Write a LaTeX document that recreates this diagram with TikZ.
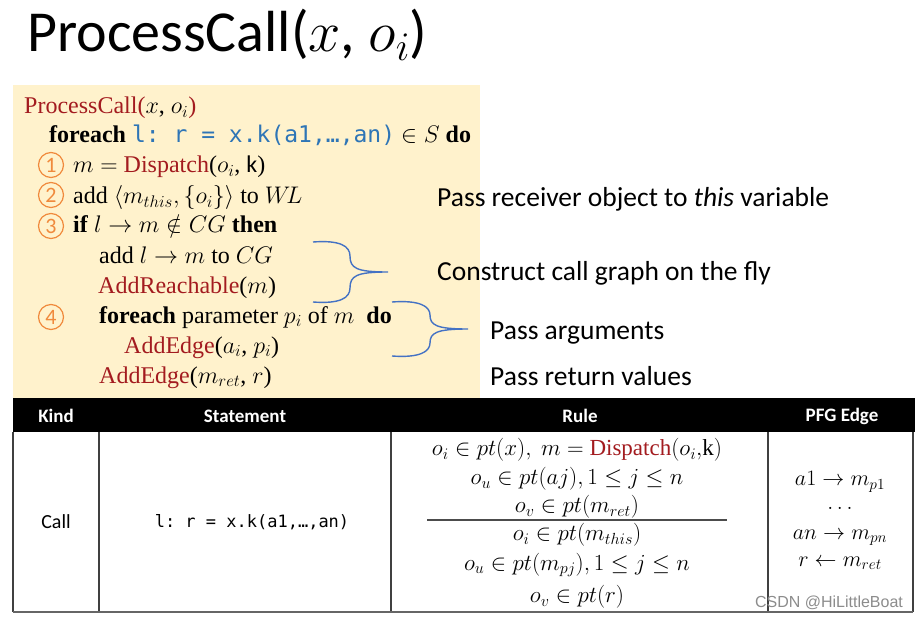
\documentclass[tikz,border=0pt]{standalone}
\usepackage{fix-cm}
\usepackage{fontspec}
\setmainfont{Liberation Serif}
\setsansfont{Carlito}
\setmonofont{DejaVu Sans Mono}
\newfontfamily\markfont{Liberation Sans}
\usetikzlibrary{positioning}
\definecolor{boxyellow}{HTML}{FFF2CC}
\definecolor{fnred}{HTML}{A31B1F}
\definecolor{codeblue}{HTML}{2E75B6}
\definecolor{stepor}{HTML}{F08A3C}
\definecolor{bracebl}{HTML}{4472C4}
\newcommand{\fn}[1]{\textcolor{fnred}{#1}}
\newcommand{\code}[1]{\textcolor{codeblue}{\ttfamily\fontsize{23}{28}\selectfont #1}}
\tikzset{
  algo/.style={anchor=base west, inner sep=0pt, font=\fontsize{24}{28}\selectfont},
  note/.style={anchor=base west, inner sep=0pt, font=\sffamily\fontsize{27.5}{30}\selectfont},
  stepnum/.style={circle, draw=stepor, line width=1.2pt, text=stepor, minimum size=25pt,
    inner sep=0pt, font=\sffamily\fontsize{22}{24}\selectfont},
  head/.style={text=white, font=\sffamily\bfseries\fontsize{19}{21}\selectfont},
  cell/.style={font=\fontsize{23}{25}\selectfont},
  curly/.style={draw=bracebl, line width=1.4pt},
  grid/.style={draw=black!75, line width=2pt},
}
\begin{document}
\begin{tikzpicture}[x=1pt,y=-1pt]
\useasboundingbox[fill=white] (0,0) rectangle (923,620);
% title
\node[anchor=base west, inner sep=0pt, font=\sffamily\fontsize{58}{60}\selectfont] (title) at (27,52) {ProcessCall($x$, $o_i$)};
% pseudo code
\fill[boxyellow] (13,85) rectangle (480,398);
\node[algo] (proc) at (24,114) {\fn{ProcessCall(}$x$, $o_i$\fn{)}};
\node[algo] (loop) at (49,143) {\textbf{foreach} \code{l: r = x.k(a1,…,an)} $\in S$ \textbf{do}};
\node[stepnum] (s1) at (51,165) {1};
\node[algo] (l1) at (73,173) {$m =$ \fn{Dispatch}($o_i$, {\sffamily k})};
\node[stepnum] (s2) at (51,195) {2};
\node[algo] (l2) at (73,204) {add $\langle m_{this}, \{o_i\}\rangle$ to $W\!L$};
\node[stepnum] (s3) at (51,226) {3};
\node[algo] (l3) at (73,233) {\textbf{if} $l \rightarrow m \notin CG$ \textbf{then}};
\node[algo] (l4) at (99,263) {add $l \rightarrow m$ to $CG$};
\node[algo] (l5) at (98,293) {\fn{AddReachable}($m$)};
\node[stepnum] (s4) at (51,317) {4};
\node[algo] (l6) at (99,323) {\textbf{foreach} parameter $p_i$ of $m$ ~\textbf{do}};
\node[algo] (l7) at (124,353) {\fn{AddEdge}($a_i$, $p_i$)};
\node[algo] (l8) at (99,383) {\fn{AddEdge}($m_{ret}$, $r$)};
% braces
\coordinate (b1top) at (313,242);
\coordinate (b1tip) at (388,272);
\coordinate (b1bot) at (313,302);
\draw[curly] (b1top) .. controls (340,240) and (350,246) .. (350,256)
  .. controls (350,268) and (356,272) .. (b1tip)
  .. controls (356,272) and (350,276) .. (350,288)
  .. controls (350,298) and (340,304) .. (b1bot);
\coordinate (b2top) at (392,302);
\coordinate (b2tip) at (468,329);
\coordinate (b2bot) at (392,356);
\draw[curly] (b2top) .. controls (419,300) and (430,306) .. (430,315)
  .. controls (430,325) and (436,329) .. (b2tip)
  .. controls (436,329) and (430,333) .. (430,343)
  .. controls (430,352) and (419,358) .. (b2bot);
\node[note] (n1) at (437,207) {Pass receiver object to \textit{this} variable};
\node[note] (n2) at (437,280) {Construct call graph on the fly};
\node[note] (n3) at (490,339) {Pass arguments};
\node[note] (n4) at (490,385) {Pass return values};
% table
\fill[black] (13,398) rectangle (915,432);
\draw[grid] (13,432) -- (13,612);
\draw[grid] (99,432) -- (99,612);
\draw[grid] (391,432) -- (391,612);
\draw[grid] (768,432) -- (768,612);
\draw[grid] (913,432) -- (913,612);
\draw[draw=black!60, line width=1.6pt] (13,612) -- (913,612);
\node[head] (hkind) at (56,416) {Kind};
\node[head] (hstmt) at (245,416) {Statement};
\node[head] (hrule) at (580,416) {Rule};
\node[head] (hedge) at (842,416) {PFG Edge};
\node[font=\sffamily\fontsize{20}{22}\selectfont] (kind) at (56,522) {Call};
\node[font=\ttfamily\fontsize{17}{20}\selectfont] (stmt) at (252,522) {l: r = x.k(a1,…,an)};
\node[cell] (r1) at (577,450) {$o_i \in pt(x),\ m =$ \fn{Dispatch}$(o_i,$k$)$};
\node[cell] (r2) at (577,479) {$o_u \in pt(aj), 1 \le j \le n$};
\node[cell] (r3) at (577,507) {$o_v \in pt(m_{ret})$};
\coordinate (fracL) at (427,520);
\coordinate (fracR) at (727,520);
\draw[draw=black!70, line width=1.8pt] (fracL) -- (fracR);
\node[cell] (r4) at (577,535) {$o_i \in pt(m_{this})$};
\node[cell] (r5) at (577,565) {$o_u \in pt\bigl(m_{pj}\bigr), 1 \le j \le n$};
\node[cell] (r6) at (577,597) {$o_v \in pt(r)$};
\node[cell, font=\fontsize{22}{24}\selectfont] (e1) at (840,482) {$a1 \rightarrow m_{p1}$};
\node[cell, font=\fontsize{22}{24}\selectfont] (e2) at (840,508) {$\ldots$};
\node[cell, font=\fontsize{22}{24}\selectfont] (e3) at (840,538) {$an \rightarrow m_{pn}$};
\node[cell, font=\fontsize{22}{24}\selectfont] (e4) at (840,563) {$r \leftarrow m_{ret}$};
\node[font=\markfont\fontsize{16}{18}\selectfont, text=black!45] (mark) at (829,603) {CSDN @HiLittleBoat};
\end{tikzpicture}
\end{document}
